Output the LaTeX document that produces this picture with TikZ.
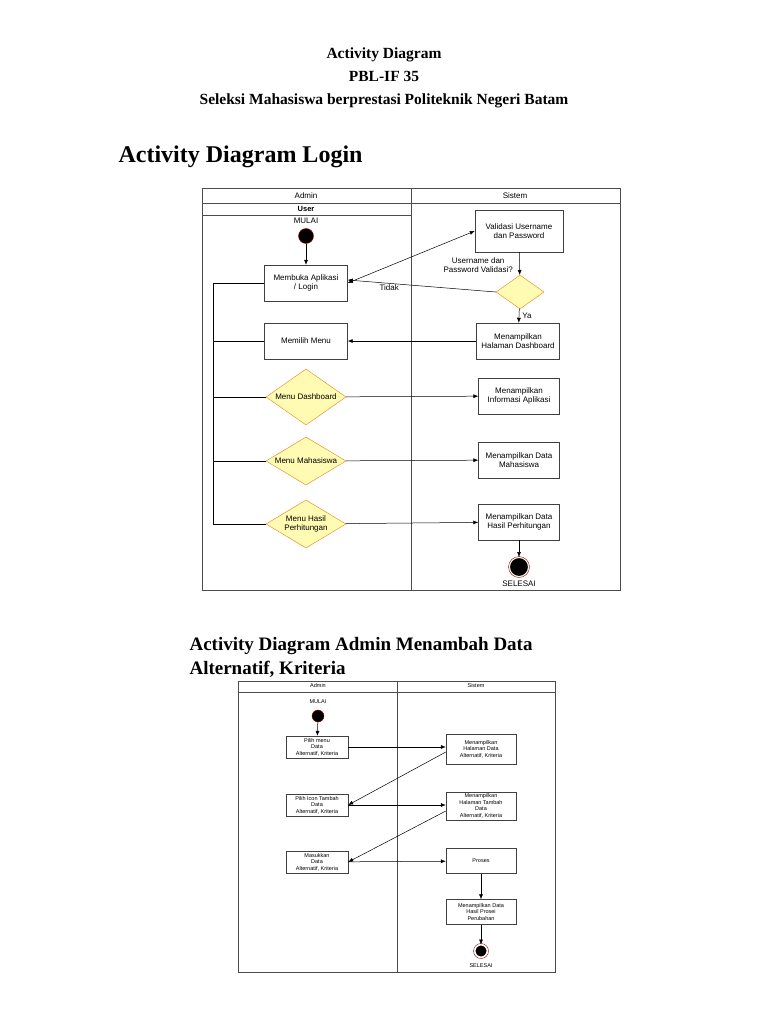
\documentclass[tikz,border=0pt]{standalone}
\usepackage{fontspec}
\setmainfont{Liberation Serif}
\newfontfamily\diagfont{Liberation Sans}
\usetikzlibrary{arrows.meta,positioning,shapes.geometric}

\begin{document}
\begin{tikzpicture}[x=1pt, y=-1pt,
  >={Latex[length=5pt,width=4pt]},
  box/.style={
    draw=black!75,
    fill=white,
    align=center,
    font=\diagfont\fontsize{8}{9.5}\selectfont,
    inner sep=1pt
  },
  act/.style={box, minimum width=83pt, minimum height=36pt},
  small/.style={box, minimum width=62pt, minimum height=22pt,
    font=\diagfont\fontsize{5.5}{6.5}\selectfont},
  sact/.style={small, minimum width=70pt, minimum height=28pt},
  choice/.style={box, diamond, fill=yellow!30, draw=orange!70!brown,
    aspect=1.5, minimum width=80pt, minimum height=52pt, inner sep=-7pt},
  lbl/.style={font=\diagfont\fontsize{8}{9.5}\selectfont, inner sep=1pt},
  slbl/.style={font=\diagfont\fontsize{5.5}{6.5}\selectfont, inner sep=1pt},
  start/.style={circle, fill=black, draw=red!60!black, inner sep=0pt},
  stop/.style={circle, fill=black, draw=white, line width=1pt,
    inner sep=0pt},
  arr/.style={->, line width=0.5pt},
  lane/.style={draw=black!70, line width=0.8pt}
]
\useasboundingbox (0,0) rectangle (768,1024);

% headings
\node[font=\bfseries\fontsize{15.5}{23}\selectfont, align=center] (title) at (384,78)
{Activity Diagram\\PBL-IF 35\\Seleksi Mahasiswa berprestasi Politeknik Negeri Batam};
\node[font=\bfseries\fontsize{24}{26}\selectfont, anchor=west] (head1) at (115,157)
{Activity Diagram Login};
\node[font=\bfseries\fontsize{19}{24}\selectfont, anchor=west, align=left] (head2) at (186,657)
{Activity Diagram Admin Menambah Data\\Alternatif, Kriteria};

% ---- diagram login: swimlanes
\draw[lane] (202,188) rectangle (620,590);
\draw[lane] (202,203) -- (620,203);
\draw[lane] (202,215) -- (411,215);
\draw[lane] (411,188) -- (411,590);
\node[lbl] (adm) at (306,196) {Admin};
\node[lbl] (sis) at (515,196) {Sistem};
\node[lbl, font=\diagfont\bfseries\fontsize{7.5}{8}\selectfont] (usr) at (306,209) {User};

\node[lbl] (mulai) at (306,221) {MULAI};
\node[start, minimum size=15pt] (s0) at (306,236) {};
\node[act] (buka) at (306,283) {Membuka Aplikasi\\/ Login};
\node[act, minimum width=88pt, minimum height=42pt] (valid) at (519,231)
{Validasi Username\\dan Password};
\node[choice, minimum width=48pt, minimum height=34pt, inner sep=0pt] (cek) at (520,292) {};
\node[lbl, align=center, anchor=south east] (q) at (514,274)
{Username dan\\Password Validasi?};
\node[act] (dash) at (518,341) {Menampilkan\\Halaman Dashboard};
\node[act] (pilih) at (306,341) {Memilih Menu};
\node[choice, minimum height=56pt] (mdash) at (306,397) {Menu Dashboard};
\node[choice, minimum height=48pt] (mmhs) at (306,461) {Menu Mahasiswa};
\node[choice, minimum height=48pt] (mhasil) at (306,524) {Menu Hasil\\Perhitungan};
\node[act, minimum width=81pt] (info) at (519,396) {Menampilkan\\Informasi Aplikasi};
\node[act, minimum width=81pt] (dmhs) at (519,460) {Menampilkan Data\\Mahasiswa};
\node[act, minimum width=81pt] (dhasil) at (519,522) {Menampilkan Data\\Hasil Perhitungan};
\node[stop, minimum size=19pt] (s1) at (519,567) {};
\draw[red!60!black] (s1) circle (10.5pt);
\node[lbl] (selesai) at (519,584) {SELESAI};

\coordinate (bus) at (213,283);
\coordinate (busend) at (213,524);

\draw[arr] (s0) -- (buka);
\draw[arr, <->] (buka.east) -- (valid.west);
\draw[arr] (valid) -- (cek);
\draw[arr] (cek.west) -- node[lbl, pos=0.72, below] {Tidak} ([yshift=3pt]buka.east);
\draw[arr] (cek) -- node[lbl, right=2pt] {Ya} (dash);
\draw[arr] (dash) -- (pilih);
\draw[line width=0.5pt] (bus) -- (busend);
\draw[line width=0.5pt] (bus) -- (buka.west);
\draw[line width=0.5pt] (213,341) -- (pilih.west);
\draw[line width=0.5pt] (213,397) -- (mdash.west);
\draw[line width=0.5pt] (213,461) -- (mmhs.west);
\draw[line width=0.5pt] (busend) -- (mhasil.west);
\draw[arr] (mdash) -- (info);
\draw[arr] (mmhs) -- (dmhs);
\draw[arr] (mhasil) -- (dhasil);
\draw[arr] (dhasil) -- (s1);

% ---- diagram tambah data: swimlanes
\draw[lane, line width=0.6pt] (238,681) rectangle (555,972);
\draw[lane, line width=0.6pt] (238,692) -- (555,692);
\draw[lane, line width=0.6pt] (397,681) -- (397,972);
\node[slbl] (adm2) at (318,686) {Admin};
\node[slbl] (sis2) at (476,686) {Sistem};

\node[slbl] (mulai2) at (318,702) {MULAI};
\node[start, minimum size=12pt] (t0) at (318,716) {};
\node[small] (menu) at (317,747) {Pilih menu\\Data\\Alternatif, Kriteria};
\node[small] (icon) at (317,805) {Pilih Icon Tambah\\Data\\Alternatif, Kriteria};
\node[small] (input) at (317,862) {Masukkan\\Data\\Alternatif, Kriteria};
\node[sact, minimum height=30pt] (hal) at (481,749) {Menampilkan\\Halaman Data\\Alternatif, Kriteria};
\node[sact] (haltbh) at (481,806) {Menampilkan\\Halaman Tambah\\Data\\Alternatif, Kriteria};
\node[sact, minimum height=25pt] (proses) at (481,861) {Proses};
\node[sact, minimum height=25pt] (hasil) at (481,912) {Menampilkan Data\\Hasil Prosei\\Perubahan};
\node[stop, minimum size=12pt] (t1) at (481,951) {};
\draw[red!60!black] (t1) circle (7.5pt);
\node[slbl] (selesai2) at (481,966) {SELESAI};

\draw[arr] (t0) -- (menu);
\draw[arr] (menu) -- (menu -| hal.west);
\draw[arr] ([yshift=-3pt]hal.west) -- (icon.east);
\draw[arr] (icon) -- (icon -| haltbh.west);
\draw[arr] ([yshift=-5pt]haltbh.west) -- (input.east);
\draw[arr] (input) -- (proses);
\draw[arr] (proses) -- (hasil);
\draw[arr] (hasil) -- (t1);
\end{tikzpicture}
\end{document}
